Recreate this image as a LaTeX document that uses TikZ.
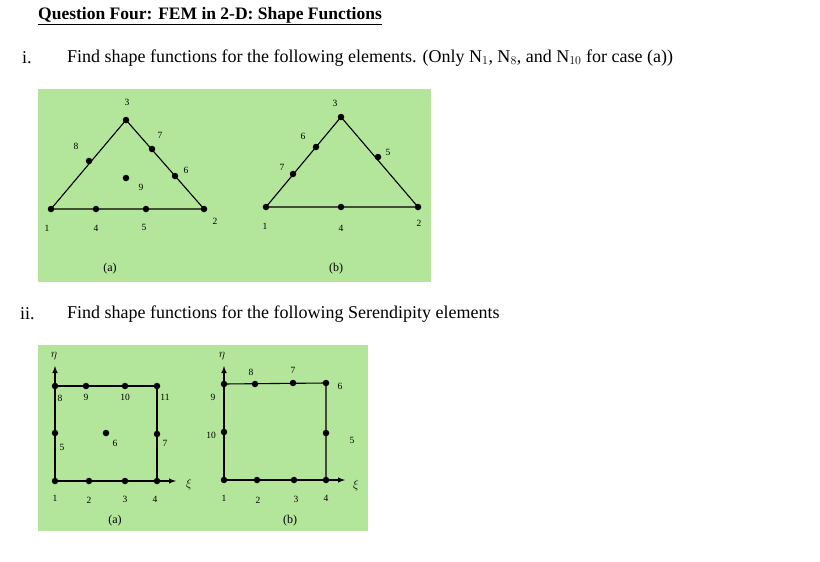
\documentclass[tikz,border=0pt]{standalone}
\usepackage{fontspec}
\setmainfont{Liberation Serif}
\begin{document}
\begin{tikzpicture}[x=1pt,y=-1pt,
  dot/.style={circle,fill=black,inner sep=0pt,minimum size=6.5pt},
  lab/.style={font=\fontsize{9.5}{10}\selectfont,inner sep=0pt},
  captxt/.style={font=\fontsize{12}{13}\selectfont,inner sep=0pt},
  txt/.style={font=\fontsize{18}{20}\selectfont,anchor=west,inner sep=0pt},
  edge/.style={line width=1.1pt},
  ax/.style={line width=1.4pt,-latex}]
\useasboundingbox (0,0) rectangle (820,562);
\definecolor{pg}{HTML}{B3E59B}
\node[txt,font=\fontsize{17.5}{20}\selectfont\bfseries] (title) at (38,16) {\underline{Question Four: FEM in 2-D: Shape Functions}};
\node[txt] (ri) at (22,58) {i.};
\node[txt] (ti) at (67,58) {Find shape functions for the following elements. (Only N$_1$, N$_8$, and N$_{10}$ for case (a))};
\node[txt] (rii) at (20,314) {ii.};
\node[txt] (tii) at (67,314) {Find shape functions for the following Serendipity elements};
\fill[pg] (38,89) rectangle (431,282);
\fill[pg] (38,345) rectangle (368,531);
% triangle a
\foreach \n/\x/\y in {a1/51/209,a2/204/209,a3/126/120,a4/96/209,a5/146/209,a8/89/161,a7/152/149,a6/175/176,a9/126/178}
  \node[dot] (\n) at (\x,\y) {};
\draw[edge] (a1.center)--(a2.center)--(a3.center)--cycle;
\foreach \t/\x/\y in {1/47/228,4/96/228,5/144/227,2/215/221,3/127/102,8/76/146,7/160/135,6/186/170,9/141/187}
  \node[lab] (la\t) at (\x,\y) {\t};
\node[captxt] (capa) at (110,269) {(a)};
% triangle b
\foreach \n/\x/\y in {b1/266/207,b2/418/207,b3/341/117,b4/341/207,b7/293/174,b6/316/147,b5/378/157}
  \node[dot] (\n) at (\x,\y) {};
\draw[edge] (b1.center)--(b2.center)--(b3.center)--cycle;
\foreach \t/\x/\y in {1/265/226,4/341/228,2/419/223,3/335/103,6/303/136,7/282/167,5/388/152}
  \node[lab] (lb\t) at (\x,\y) {\t};
\node[captxt] (capb) at (336,269) {(b)};
% square a
\coordinate (oa) at (55,481); \coordinate (ya) at (55,366); \coordinate (xa) at (176,481);
\draw[ax] (oa)--(ya); \draw[ax] (oa)--(xa);
\foreach \n/\x/\y in {s1/55/481,s2/89/481,s3/125/481,s4/157/481,s5/55/433,s6/106/433,s7/157/434,s8/55/386,s9/86/386,s10/125/386,s11/157/386}
  \node[dot] (\n) at (\x,\y) {};
\draw[edge] (s8.center)--(s11.center)--(s4.center);
\foreach \t/\x/\y in {8/60/398,9/86/397,10/125/397,11/165/397,5/62/447,6/115/443,7/165/443,1/55/498,2/89/500,3/125/499,4/155/499}
  \node[lab] (ls\t) at (\x,\y) {\t};
\node[lab,font=\fontsize{13}{14}\selectfont] (etaa) at (54,356) {$\eta$};
\node[lab,font=\fontsize{13}{14}\selectfont] (xia) at (189,484) {$\xi$};
\node[captxt] (capc) at (115,521) {(a)};
% square b
\coordinate (ob) at (224,480); \coordinate (yb) at (224,366); \coordinate (xb) at (345,480);
\draw[ax] (ob)--(yb); \draw[ax] (ob)--(xb);
\foreach \n/\x/\y in {q1/224/480,q2/257/480,q3/294/480,q4/326/480,q10/224/432,q5/326/433,q9/224/384,q8/255/384,q7/293/383,q6/326/383}
  \node[dot] (\n) at (\x,\y) {};
\draw[edge] (q9.center)--(q6.center)--(q4.center);
\foreach \t/\x/\y in {8/251/372,7/293/370,6/340/386,9/213/397,10/211/435,5/352/440,1/224/498,2/258/500,3/296/499,4/326/498}
  \node[lab] (lq\t) at (\x,\y) {\t};
\node[lab,font=\fontsize{13}{14}\selectfont] (etab) at (222,356) {$\eta$};
\node[lab,font=\fontsize{13}{14}\selectfont] (xib) at (356,485) {$\xi$};
\node[captxt] (capd) at (290,521) {(b)};
\end{tikzpicture}
\end{document}
